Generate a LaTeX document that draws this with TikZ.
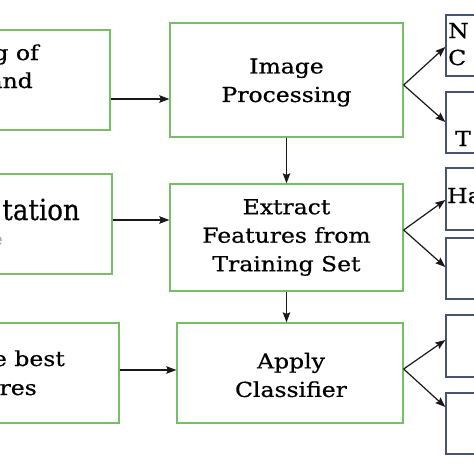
\documentclass[tikz,border=0pt]{standalone}
\usepackage{fontspec}
\usepackage{graphicx}
\setmainfont{DejaVu Serif}[FakeStretch=1.14,FakeBold=0.6]
\newfontfamily\bigserif{DejaVu Serif}[FakeBold=0.6]
\usetikzlibrary{arrows.meta}
\definecolor{boxgreen}{RGB}{118,190,104}
\definecolor{boxslate}{RGB}{70,84,110}
\definecolor{arrowgray}{RGB}{25,25,25}
\newcommand\mainfs{\fontsize{20.6}{28.5}\selectfont}
\tikzset{
  gbox/.style={draw=boxgreen, line width=1.3pt, fill=white, inner sep=0pt, align=center, font=\mainfs, text=black},
  sbox/.style={draw=boxslate, line width=1.4pt, fill=white, inner sep=0pt, minimum width=80pt},
  frag/.style={inner sep=0pt, font=\mainfs, text=black},
  arr/.style={draw=arrowgray, line width=1.2pt, -{Stealth[length=10pt,width=7.5pt,inset=1.5pt]}}
}
\begin{document}
\begin{tikzpicture}[x=1pt,y=-1pt]
\useasboundingbox (0,0) rectangle (474,474);
\clip (0,0) rectangle (474,474);
\fill[white] (0,0) rectangle (474,474);
% left column
\node[gbox, minimum width=170pt, minimum height=100pt] (l1) at (25,80) {};
\node[gbox, minimum width=172pt, minimum height=100pt] (l2) at (26,224) {};
\node[gbox, minimum width=179pt, minimum height=100pt] (l3) at (29.5,373) {};
% middle column
\node[gbox, minimum width=233pt, minimum height=114pt] (ip) at (286.5,80) {};
\node[gbox, minimum width=233pt, minimum height=107pt] (ex) at (286.5,237.5) {Extract\\Features from\\Training Set};
\node[gbox, minimum width=226pt, minimum height=100pt] (ac) at (290,373) {};
\node[frag, align=center] (ipt) at (286.5,82.5) {Image\\Processing};
\node[frag, align=center] (act) at (291,375) {Apply\\Classifier};
% right column
\node[sbox, minimum height=61pt] (r1) at (486,45.5) {};
\node[sbox, minimum height=61pt] (r2) at (486,122.5) {};
\node[sbox, minimum height=62pt] (r3) at (486,199) {};
\node[sbox, minimum height=61pt] (r4) at (486,268.5) {};
\node[sbox, minimum height=62pt] (r5) at (486,346) {};
\node[sbox, minimum height=61pt] (r6) at (486,423.5) {};
% visible text fragments, left column
\node[frag, anchor=base east] (t1a) at (39,60) {g of};
\node[frag, anchor=base east] (t1b) at (33,88) {and};
\node[inner sep=0pt, anchor=base east, font=\bigserif\fontsize{29}{34}\selectfont] (t2a) at (80,220) {\scalebox{0.9}[1]{tation}};
\node[frag, anchor=base east, text=gray!70] (t2b) at (3,246) {e};
\node[frag, anchor=base east] (t3a) at (65,366) {e best};
\node[frag, anchor=base east] (t3b) at (37,395) {res};
% visible text fragments, right column
\node[frag, anchor=base west] (u1a) at (448,38) {N};
\node[frag, anchor=base west] (u1b) at (448,65) {C};
\node[frag, anchor=base west] (u2a) at (455,146) {T};
\node[frag, anchor=base west] (u3a) at (447,203) {Ha};
% connectors
\draw[arr] ([yshift=-19pt]l1.east) -- ([yshift=-19pt]l1.east -| ip.west);
\draw[arr] ([yshift=4pt]l2.east) -- ([yshift=4pt]l2.east -| ex.west);
\draw[arr] ([yshift=3pt]l3.east) -- ([yshift=3pt]l3.east -| ac.west);
\draw[arr] (ip.south) -- (ex.north);
\draw[arr] (ex.south) -- (ex.south |- ac.north);
\draw[arr] ([yshift=-5pt]ip.east) -- ([yshift=-1.5pt]r1.west);
\draw[arr] ([yshift=-5pt]ip.east) -- ([yshift=0.5pt]r2.west);
\draw[arr] ([yshift=7.5pt]ex.east) -- ([yshift=-1pt]r3.west);
\draw[arr] ([yshift=7.5pt]ex.east) -- ([yshift=1.5pt]r4.west);
\draw[arr] ([yshift=4pt]ac.east) -- ([yshift=6pt]r5.west);
\draw[arr] ([yshift=4pt]ac.east) -- ([yshift=16.5pt]r6.west);
\end{tikzpicture}
\end{document}
